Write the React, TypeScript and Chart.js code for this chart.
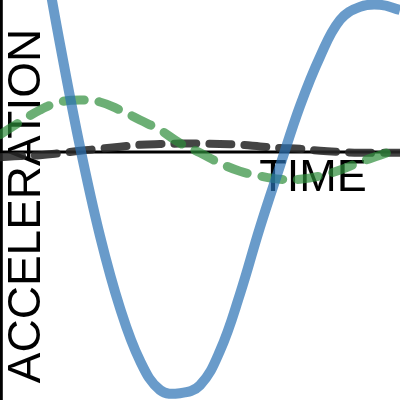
import React, { useEffect, useRef } from "react";
import { Chart, registerables } from "chart.js";

Chart.register(...registerables);

// Time (s) shared by all series, and acceleration values
const time = [0, 0.5, 1, 1.5, 2, 2.5, 3, 3.5, 4, 4.5, 5, 5.5, 6, 6.5, 7, 7.5, 8, 8.5, 9, 9.5, 10];
const blueAccel = [9.0, 7.9, 5.43, 2.7, 0.13, -2.1, -3.9, -5.22, -5.95, -6.03, -5.83, -4.97, -3.55, -1.88, -0.35, 1.15, 2.38, 3.3, 3.63, 3.68, 3.55];
const greenAccel = [0.43, 0.75, 1.05, 1.25, 1.3, 1.25, 1.05, 0.8, 0.55, 0.22, -0.02, -0.28, -0.48, -0.6, -0.68, -0.68, -0.6, -0.45, -0.25, -0.08, 0.1];
const grayAccel = [-0.13, -0.1, -0.08, -0.03, 0.03, 0.08, 0.13, 0.18, 0.2, 0.21, 0.21, 0.2, 0.18, 0.14, 0.1, 0.08, 0.03, 0.0, -0.02, -0.02, -0.02];

const xLabel = "TIME";
const yLabel = "ACCELERATION";

const toPoints = (t: number[], a: number[]) => t.map((x, i) => ({ x, y: a[i] }));

const axesPlugin = {
  id: "handAxes",
  beforeDatasetsDraw(chart: any) {
    const { ctx, scales } = chart;
    const xs = scales.x;
    const ys = scales.y;
    const y0 = ys.getPixelForValue(0);
    const x0 = xs.getPixelForValue(0);
    ctx.save();
    ctx.strokeStyle = "#000";
    ctx.lineWidth = 3;
    ctx.beginPath();
    ctx.moveTo(xs.left, y0);
    ctx.lineTo(xs.right, y0);
    ctx.stroke();
    ctx.beginPath();
    ctx.moveTo(x0 + 1.3, ys.top);
    ctx.lineTo(x0 + 1.3, ys.bottom);
    ctx.stroke();
    ctx.fillStyle = "#000";
    ctx.font = '45px "Liberation Sans", Arial, sans-serif';
    ctx.textAlign = "left";
    ctx.textBaseline = "alphabetic";
    ctx.fillText(xLabel, xs.getPixelForValue(6.48), y0 + 39);
    ctx.translate(x0 + 40, y0 + 54);
    ctx.rotate(-Math.PI / 2);
    ctx.font = '46px "Liberation Sans", Arial, sans-serif';
    ctx.textAlign = "center";
    ctx.fillText(yLabel, 0, 0);
    ctx.restore();
  },
};

export default function App() {
  const ref = useRef<HTMLCanvasElement>(null);
  useEffect(() => {
    if (!ref.current) return;
    const chart = new Chart(ref.current, {
      type: "line",
      data: {
        datasets: [
          {
            data: toPoints(time, blueAccel),
            borderColor: "rgba(42,112,179,0.7)",
            borderWidth: 10,
            pointRadius: 0,
            tension: 0.4,
            fill: false,
          },
          {
            data: toPoints(time, greenAccel),
            borderColor: "rgba(45,141,58,0.7)",
            borderWidth: 9,
            borderDash: [21, 15],
            borderCapStyle: "round",
            pointRadius: 0,
            tension: 0.4,
            fill: false,
          },
          {
            data: toPoints(time, grayAccel),
            borderColor: "rgba(40,40,40,0.87)",
            borderWidth: 8,
            borderDash: [22, 13],
            borderCapStyle: "round",
            pointRadius: 0,
            tension: 0.4,
            fill: false,
          },
        ],
      },
      options: {
        animation: false,
        responsive: false,
        devicePixelRatio: 1,
        layout: { padding: 0 },
        plugins: { legend: { display: false }, tooltip: { enabled: false } },
        scales: {
          x: { type: "linear", min: 0, max: 10, display: false },
          y: { type: "linear", min: -6.2, max: 3.8, display: false },
        },
      },
      plugins: [axesPlugin],
    });
    return () => chart.destroy();
  }, []);
  return (
    <canvas
      ref={ref}
      width={400}
      height={400}
      style={{ position: "fixed", left: 0, top: 0, width: 400, height: 400, background: "#fff" }}
    />
  );
}
